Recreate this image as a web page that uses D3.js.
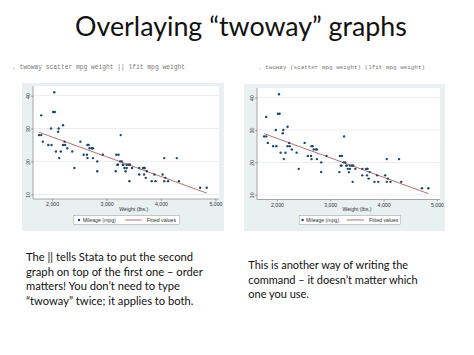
<!DOCTYPE html>
<html><head><meta charset="utf-8">
<script src="https://cdn.jsdelivr.net/npm/d3@7"></script>
<style>body{margin:0;background:#fff}svg{display:block}</style>
</head><body>
<svg id="c" width="474" height="355"></svg>
<script>
// ---- data (auto dataset: mpg vs weight) ----
const weight = [2930,3350,2640,3250,4080,3670,2230,3280,3880,3400,
4330,3900,4290,2110,3690,3180,3220,2750,3430,2120,
3600,3600,3740,1800,2650,4840,4720,3830,2580,4060,
3720,3370,4130,2830,4060,3310,3300,3690,3370,2730,
4030,3260,1800,2200,2520,3330,3700,3470,3210,3200,
3420,2690,2830,2070,2650,2370,2020,2280,2750,2130,
2240,1760,1980,3420,1830,2050,2410,2200,2670,2160,
2040,1930,1990,3170];
const mpg = [22,17,22,20,15,18,26,20,16,19,
14,14,21,29,16,22,22,24,19,30,
18,16,17,28,21,12,12,14,22,14,
15,18,14,20,21,19,19,18,19,24,
16,28,34,25,26,18,18,18,19,19,
19,24,17,23,25,23,35,24,21,21,
25,28,30,14,26,35,18,31,25,23,
41,25,25,17];
const fitWeight = [1760, 4840];
const fitMpg = [28.86, 10.36];
const xTicks = [2000, 3000, 4000, 5000];
const yTicks = [10, 20, 30, 40];
const legendLabels = ["Mileage (mpg)", "Fitted values"];
const xTitle = "Weight (lbs.)";
const commands = [". twoway scatter mpg weight || lfit mpg weight", ". twoway (scatter mpg weight) (lfit mpg weight)"];
const slideTitle = "Overlaying \u201ctwoway\u201d graphs";
const leftText = ["The || tells Stata to put the second", "graph on top of the first one \u2013 order", "matters! You don\u2019t need to type", "\u201ctwoway\u201d twice; it applies to both."];
const rightText = ["This is another way of writing the", "command \u2013 it doesn\u2019t matter which", "one you use."];

// ---- layout ----
const panels = [
  {gx:22, gy:83, gw:202, gh:148, px:33, py:86, pr:219, pb:199, xr:[52.1,215.4], yr:[194.3,95.6],
   lg:{x:73.3, y:215.7, w:106, h:8.6, m:79, t1:82.7, l1:125.3, l2:141.7, t2:146.7}, cmdx:12, cmdw:173},
  {gx:244, gy:84, gw:201, gh:147, px:257, py:88, pr:440, pb:199.5, xr:[276.9,436.9], yr:[194.8,97.5],
   lg:{x:299.3, y:215.7, w:101.4, h:8.5, m:302.6, t1:306, l1:346.7, l2:364, t2:369}, cmdx:258, cmdw:167}
];
const navy = "#1a476f", maroon = "#90353b", bg = "#e9f0f2", grid = "#e6eaec";
const svg = d3.select("#c");
svg.append("rect").attr("width",474).attr("height",355).attr("fill","#fff");

function fitWidth(sel, target){
  const fs = parseFloat(sel.attr("font-size"));
  const w = sel.node().getComputedTextLength();
  sel.attr("font-size", fs*target/w);
  return fs*target/w;
}

// title
const t = svg.append("text").attr("x",241).attr("y",36).attr("text-anchor","middle")
  .attr("font-family","Lato, 'Open Sans', sans-serif").attr("font-size",28).attr("fill","#111").text(slideTitle);
fitWidth(t, 332);

panels.forEach((p, i) => {
  const g = svg.append("g");
  // command
  const cm = g.append("text").attr("x",p.cmdx).attr("y",68.6)
    .attr("font-family","'Liberation Mono', 'DejaVu Sans Mono', monospace").attr("font-size",6.2)
    .attr("fill","#777").text(commands[i]);
  fitWidth(cm, p.cmdw);

  g.append("rect").attr("x",p.gx).attr("y",p.gy).attr("width",p.gw).attr("height",p.gh).attr("fill",bg);
  g.append("rect").attr("x",p.px).attr("y",p.py).attr("width",p.pr-p.px).attr("height",p.pb-p.py).attr("fill","#fff");

  const x = d3.scaleLinear().domain([2000,5000]).range(p.xr);
  const y = d3.scaleLinear().domain([10,40]).range(p.yr);

  // grid
  g.selectAll(".gl").data(yTicks).join("line")
    .attr("x1",p.px).attr("x2",p.pr).attr("y1",d=>y(d)).attr("y2",d=>y(d))
    .attr("stroke",grid).attr("stroke-width",0.8);

  // axes
  const xa = g.append("g").attr("transform",`translate(0,${p.pb})`)
    .call(d3.axisBottom(x).tickValues(xTicks).tickFormat(d3.format(",")).tickSize(2).tickPadding(1.6));
  const ya = g.append("g").attr("transform",`translate(${p.px},0)`)
    .call(d3.axisLeft(y).tickValues(yTicks).tickSize(2).tickPadding(1));
  [xa, ya].forEach(a => {
    a.select(".domain").remove();
    a.selectAll("line").attr("stroke","#555").attr("stroke-width",0.5);
    a.selectAll("text").attr("font-family","'Liberation Sans', Arial, sans-serif").attr("font-size",5.2).attr("fill","#333");
  });
  ya.selectAll("text").attr("x",null).attr("dy",null).attr("text-anchor","middle")
    .attr("transform","translate(-3.4,0) rotate(-90)");
  g.append("line").attr("x1",p.px).attr("x2",p.pr).attr("y1",p.pb).attr("y2",p.pb).attr("stroke","#555").attr("stroke-width",0.5);
  g.append("line").attr("x1",p.px).attr("x2",p.px).attr("y1",p.py).attr("y2",p.pb).attr("stroke","#555").attr("stroke-width",0.5);

  g.append("text").attr("x",(x(2000)+x(5000))/2).attr("y",210.8).attr("text-anchor","middle")
    .attr("font-family","'Liberation Sans', Arial, sans-serif").attr("font-size",5.2).attr("fill","#333").text(xTitle);

  // scatter
  g.selectAll(".pt").data(weight.map((w,k)=>[w,mpg[k]])).join("circle")
    .attr("cx",d=>x(d[0])).attr("cy",d=>y(d[1])).attr("r",1.2).attr("fill",navy);
  // fitted line
  g.append("path").datum(fitWeight.map((w,k)=>[w,fitMpg[k]]))
    .attr("d", d3.line().x(d=>x(d[0])).y(d=>y(d[1])))
    .attr("fill","none").attr("stroke",maroon).attr("stroke-width",0.7);

  // legend
  const L = p.lg, cy = L.y + L.h/2;
  g.append("rect").attr("x",L.x).attr("y",L.y).attr("width",L.w).attr("height",L.h)
    .attr("fill","#fff").attr("stroke","#888").attr("stroke-width",0.4);
  g.append("circle").attr("cx",L.m).attr("cy",cy).attr("r",1.2).attr("fill",navy);
  g.append("line").attr("x1",L.l1).attr("x2",L.l2).attr("y1",cy).attr("y2",cy).attr("stroke",maroon).attr("stroke-width",0.7);
  [[L.t1,legendLabels[0]],[L.t2,legendLabels[1]]].forEach(([tx,s])=>{
    g.append("text").attr("x",tx).attr("y",cy+1.8).attr("font-family","'Liberation Sans', Arial, sans-serif")
      .attr("font-size",5.2).attr("fill","#333").text(s);
  });
});

// body text
function para(lines, x0, y0, lh, target){
  const ts = lines.map((s,k)=> svg.append("text").attr("x",x0).attr("y",y0+k*lh)
    .attr("font-family","Lato, 'Open Sans', sans-serif").attr("font-size",14).attr("fill","#111").text(s));
  const fs = fitWidth(ts[0], target);
  ts.forEach(s=>s.attr("font-size",fs));
}
para(leftText, 26, 261, 14.6, 167.3);
para(rightText, 248.3, 269.3, 14.3, 160);
</script>
</body></html>
